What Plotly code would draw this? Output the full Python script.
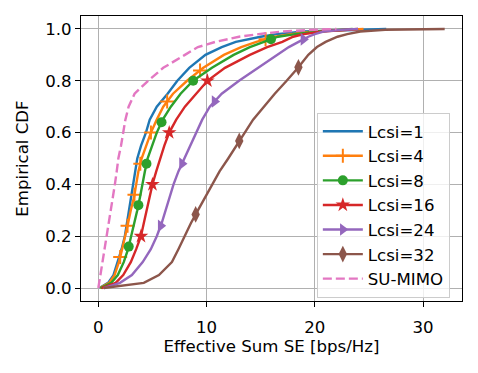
import numpy as np
import plotly.graph_objects as go

# CDF levels shared by all curves
cdf_levels = [0, 0.02, 0.05, 0.1, 0.15, 0.2, 0.25, 0.3, 0.35, 0.4, 0.45, 0.5, 0.55,
              0.6, 0.65, 0.7, 0.75, 0.8, 0.85, 0.9, 0.93, 0.95, 0.97, 0.98, 0.99, 0.997, 1.0]

# Effective sum SE values (bps/Hz) at each CDF level
se_lcsi1 = [0.1, 0.9, 1.4, 1.8, 2.15, 2.45, 2.65, 2.85, 3.0, 3.2, 3.4, 3.6, 3.95,
            4.4, 4.75, 5.4, 6.4, 7.3, 8.4, 9.9, 11.4, 12.7, 15.0, 16.5, 19.0, 23.5, 26.6]
se_lcsi4 = [0.15, 1.0, 1.5, 1.9, 2.2, 2.5, 2.75, 3.0, 3.3, 3.5, 3.7, 4.0, 4.4,
            4.86, 5.4, 6.0, 6.9, 8.2, 9.7, 11.6, 13.2, 14.6, 16.3, 17.8, 19.8, 22.5, 24.5]
se_lcsi8 = [0.2, 1.2, 1.8, 2.35, 2.75, 3.05, 3.35, 3.6, 3.85, 4.05, 4.3, 4.55, 4.95,
            5.4, 5.95, 6.7, 7.6, 8.76, 10.5, 12.5, 14.0, 15.3, 16.6, 18.2, 20.2, 22.5, 23.5]
se_lcsi16 = [0.3, 1.6, 2.3, 3.0, 3.5, 3.94, 4.2, 4.45, 4.72, 5.0, 5.35, 5.7, 6.1,
             6.55, 7.2, 8.0, 9.0, 10.08, 11.7, 14.0, 15.6, 17.0, 18.0, 19.0, 20.7, 22.5, 24.0]
se_lcsi24 = [0.5, 2.0, 3.1, 4.1, 4.85, 5.4, 5.85, 6.2, 6.55, 6.95, 7.4, 7.95, 8.5,
             9.0, 9.6, 10.3, 11.4, 13.0, 14.8, 16.5, 17.6, 18.5, 19.4, 20.0, 20.8, 22.5, 24.0]
se_lcsi32 = [0.5, 4.2, 5.6, 6.8, 7.4, 7.95, 8.55, 9.2, 9.85, 10.5, 11.2, 12.0, 12.75,
             13.5, 14.3, 15.3, 16.3, 17.4, 18.45, 19.4, 20.2, 21.0, 22.1, 23.0, 24.2, 26.5, 32.0]
se_sumimo = [0.0, 0.08, 0.2, 0.4, 0.58, 0.78, 0.98, 1.18, 1.36, 1.53, 1.7, 1.85, 2.1,
             2.3, 2.5, 2.8, 3.35, 4.6, 6.0, 8.0, 9.2, 10.8, 13.0, 14.8, 17.0, 20.0, 22.0]

labels = ["Lcsi=1", "Lcsi=4", "Lcsi=8", "Lcsi=16", "Lcsi=24", "Lcsi=32", "SU-MIMO"]
series = [se_lcsi1, se_lcsi4, se_lcsi8, se_lcsi16, se_lcsi24, se_lcsi32, se_sumimo]

colors = ["#1f77b4", "#ff7f0e", "#2ca02c", "#d62728", "#9467bd", "#8c564b", "#e377c2"]
symbols = [None, "cross-thin", "circle", "star", "triangle-right", "diamond-tall", None]
msizes = [0, 10, 10, 11, 11, 12, 0]
mark_step = [None, 0.12, 0.16, 0.2, 0.24, 0.284, None]
dashes = ["solid"] * 6 + ["9px,4px"]

FONT = "DejaVu Sans"
FS = 16.6
fig = go.Figure()
lw = 2.4

for lab, xs, c, sym, ms, st, dsh in zip(labels, series, colors, symbols, msizes, mark_step, dashes):
    fig.add_trace(go.Scatter(x=xs, y=cdf_levels, mode="lines",
                             line=dict(color=c, width=lw, dash=dsh),
                             showlegend=False, hoverinfo="skip"))
    if sym is not None:
        lv = np.arange(st, 1.0 - 1e-9, st)
        mx = np.interp(lv, cdf_levels, xs)
        mk = dict(symbol=sym, size=ms, color=c, line=dict(color=c, width=2 if sym == "cross-thin" else 0))
        fig.add_trace(go.Scatter(x=mx, y=lv, mode="markers", marker=mk,
                                 showlegend=False, hoverinfo="skip"))
        fig.add_trace(go.Scatter(x=[None], y=[None], mode="lines+markers", name=lab,
                                 line=dict(color=c, width=lw, dash=dsh), marker=mk))
    else:
        fig.add_trace(go.Scatter(x=[None], y=[None], mode="lines", name=lab,
                                 line=dict(color=c, width=lw, dash=dsh)))

axis_common = dict(showline=True, linecolor="black", linewidth=1.1, mirror=True,
                   ticks="outside", ticklen=5, tickwidth=1.1, tickcolor="black",
                   showgrid=True, gridcolor="#b0b0b0", gridwidth=1.1, zeroline=False,
                   automargin=False,
                   tickfont=dict(family=FONT, size=FS, color="black"))

fig.update_xaxes(range=[-1.6, 33.6], tickvals=[0, 10, 20, 30], ticklabelstandoff=6,
                 title=dict(text="Effective Sum SE [bps/Hz]", font=dict(family=FONT, size=FS, color="black"), standoff=4),
                 **axis_common)
fig.update_yaxes(range=[-0.05, 1.05], tickvals=[0, 0.2, 0.4, 0.6, 0.8, 1.0], tickformat=".1f",
                 title=dict(text="Empirical CDF", font=dict(family=FONT, size=FS, color="black"), standoff=12),
                 **axis_common)

# page body has an 8px default margin; the figure is sized to fit the 478x373 window
fig.update_layout(width=462, height=357, margin=dict(l=73, r=8, t=8, b=64),
                  paper_bgcolor="white", plot_bgcolor="white",
                  font=dict(family=FONT, size=FS, color="black"),
                  legend=dict(x=0.619, y=0.66, xanchor="left", yanchor="top",
                              bgcolor="rgba(255,255,255,0.8)", bordercolor="#cccccc", borderwidth=1,
                              font=dict(family=FONT, size=FS, color="black"),
                              itemwidth=40, tracegroupgap=0))

fig.write_html("out.html")
